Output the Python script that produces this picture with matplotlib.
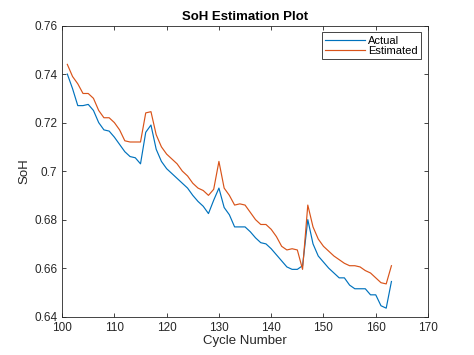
import matplotlib
matplotlib.use("Agg")
import matplotlib.pyplot as plt
import numpy as np
from matplotlib.ticker import FuncFormatter

plt.rcParams["font.family"] = ["Liberation Sans", "DejaVu Sans"]

cycles = np.arange(101, 164)
actual = [
    0.740, 0.734, 0.727, 0.727, 0.7275, 0.725, 0.720, 0.717, 0.7165, 0.714,
    0.711, 0.708, 0.706, 0.7055, 0.703, 0.716, 0.719, 0.709, 0.704, 0.701,
    0.699, 0.697, 0.695, 0.693, 0.690, 0.6875, 0.6855, 0.6825, 0.688, 0.693,
    0.685, 0.682, 0.677, 0.677, 0.677, 0.675, 0.6725, 0.6705, 0.670, 0.668,
    0.6655, 0.663, 0.6605, 0.6595, 0.6595, 0.661, 0.680, 0.670, 0.665, 0.6625,
    0.660, 0.658, 0.656, 0.656, 0.653, 0.6515, 0.6515, 0.6515, 0.649, 0.649,
    0.6445, 0.6435, 0.6545,
]
estimated = [
    0.744, 0.739, 0.736, 0.732, 0.732, 0.730, 0.725, 0.722, 0.722, 0.720,
    0.717, 0.7125, 0.712, 0.712, 0.712, 0.724, 0.7245, 0.715, 0.710, 0.707,
    0.705, 0.703, 0.700, 0.698, 0.695, 0.693, 0.692, 0.690, 0.6925, 0.704,
    0.693, 0.690, 0.686, 0.6865, 0.686, 0.683, 0.680, 0.678, 0.678, 0.676,
    0.673, 0.669, 0.6675, 0.668, 0.6675, 0.6595, 0.686, 0.677, 0.672, 0.669,
    0.667, 0.665, 0.6635, 0.662, 0.661, 0.661, 0.6605, 0.659, 0.658, 0.656,
    0.654, 0.6535, 0.661,
]

fig = plt.figure(figsize=(4.74, 3.55), dpi=100)
ax = fig.add_axes([0.131, 0.108, 0.772, 0.820])
ax.plot(cycles, actual, color="#0072BD", lw=0.85, label="Actual")
ax.plot(cycles, estimated, color="#D95319", lw=0.85, label="Estimated")

ax.set_xlim(100, 170)
ax.set_ylim(0.64, 0.76)
ax.set_xticks(np.arange(100, 171, 10))
ax.set_yticks(np.arange(0.64, 0.761, 0.02))
ax.yaxis.set_major_formatter(FuncFormatter(lambda v, p: f"{v:g}"))
ax.tick_params(direction="in", top=True, right=True, labelsize=8.5,
               colors="#262626", length=3, width=0.6)
for s in ax.spines.values():
    s.set_color("#262626")
    s.set_linewidth(0.6)

ax.set_xlabel("Cycle Number", fontsize=9.5, color="#262626", labelpad=1)
ax.set_ylabel("SoH", fontsize=9.5, color="#262626", labelpad=3)
ax.set_title("SoH Estimation Plot", fontsize=9.5, fontweight="bold", pad=4)

leg = ax.legend(loc="upper right", fontsize=8, fancybox=False,
                edgecolor="#262626", framealpha=1, borderpad=0.3,
                handlelength=3.6, handletextpad=0.3, labelspacing=0.05,
                borderaxespad=0.6)
leg.get_frame().set_linewidth(0.6)

fig.savefig("out.png", dpi=100)
